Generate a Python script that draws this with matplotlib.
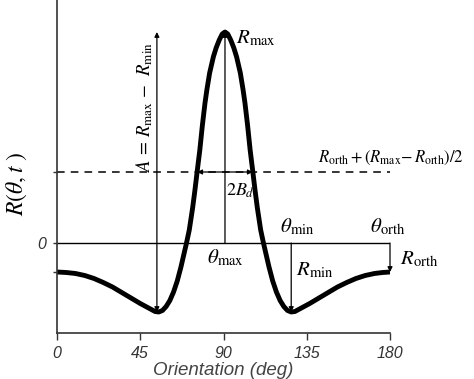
import numpy as np
import matplotlib.pyplot as plt

plt.rcParams['mathtext.fontset'] = 'stix'
plt.rcParams['font.family'] = ['Liberation Sans', 'DejaVu Sans']

# tuning curve
theta = [0, 5, 10, 15, 20, 25, 30, 35, 40, 45, 50, 53, 55, 57, 59, 61, 63, 65,
         67, 68.5, 70, 71.5, 73.3, 74.5, 75.8, 77.2, 78.6, 80, 81, 82.5, 84.5,
         86, 87.7, 89.3, 90.8, 92.3, 93.9, 95.6, 97.1, 99.1, 100.6, 101.6, 103,
         104.4, 105.8, 107.1, 108.3, 110.1, 111.6, 113.1, 114.6, 116.6, 118.6,
         120.6, 122.6, 124.6, 126.6, 128.6, 131.6, 136.6, 141.6, 146.6, 151.6,
         156.6, 161.6, 166.6, 171.6, 176, 180]
resp = [-0.29, -0.295, -0.305, -0.325, -0.355, -0.395, -0.44, -0.495, -0.55,
        -0.605, -0.655, -0.685, -0.69, -0.675, -0.635, -0.575, -0.49, -0.38,
        -0.24, -0.12, 0.00, 0.13, 0.35, 0.52, 0.72, 0.93, 1.18, 1.40, 1.53,
        1.70, 1.86, 1.95, 2.03, 2.09, 2.11, 2.09, 2.03, 1.95, 1.86, 1.70, 1.53,
        1.40, 1.18, 0.93, 0.72, 0.52, 0.35, 0.13, 0.00, -0.12, -0.24, -0.38,
        -0.49, -0.575, -0.635, -0.675, -0.69, -0.685, -0.655, -0.605, -0.55,
        -0.495, -0.44, -0.395, -0.355, -0.325, -0.305, -0.295, -0.29]

half_level = 0.71
half_left, half_right = 75.8, 105.8
theta_left_min = 54.0
xticks = [0, 45, 90, 135, 180]

theta = np.array(theta)
resp = np.array(resp)
i_max = np.argmax(resp)
i_min = np.argmin(resp[theta > 100]) + np.sum(theta <= 100)
th_max, r_max = theta[i_max], resp[i_max]
th_min, r_min = theta[i_min], resp[i_min]
th_orth, r_orth = theta[-1], resp[-1]

fig = plt.figure(figsize=(4.74, 3.79), dpi=100)
ax = fig.add_axes([57 / 474, 46 / 379, 333 / 474, 333 / 379])
ax.set_xlim(0, 180)
ax.set_ylim(-0.90, 2.43)
for s in ['top', 'right']:
    ax.spines[s].set_visible(False)
for s in ['left', 'bottom']:
    ax.spines[s].set_color('#333333')
    ax.spines[s].set_linewidth(1.2)

ax.set_xticks(xticks)
ax.set_xticklabels([str(t) for t in xticks], fontstyle='italic',
                   fontsize=11.5, color='#333333')
ax.set_yticks([r_orth, 0, half_level])
ax.set_yticklabels(['', '0', ''], fontstyle='italic', fontsize=11.5,
                   color='#333333')
ax.tick_params(axis='x', length=5, width=1, color='#333333', pad=4)
ax.tick_params(axis='y', length=3, width=1, color='#333333', pad=5)

ax.set_xlabel('Orientation (deg)', fontstyle='italic', fontsize=13.5,
              color='#444444', labelpad=1)
fig.text(17 / 474, 1 - 184 / 379, r'$R(\theta,t\ )$', rotation=90,
         fontsize=17, ha='center', va='center')

# curve
ax.plot(theta, resp, color='black', lw=3.5, solid_capstyle='butt')

# reference lines
ax.plot([0, 180], [0, 0], color='black', lw=1)
ax.plot([0, 180], [half_level, half_level], color='black', lw=1.1,
        dashes=(5, 4))


def arrow(x0, y0, x1, y1, style='-|>'):
    ax.annotate('', xy=(x1, y1), xytext=(x0, y0),
                arrowprops=dict(arrowstyle=style, lw=0.9, color='black',
                                mutation_scale=7, shrinkA=0, shrinkB=0))


arrow(theta_left_min, r_min, theta_left_min, r_max, '<|-|>')
arrow(th_max, 0, th_max, r_max)
arrow(th_max, half_level, half_left, half_level)
arrow(th_max, half_level, half_right, half_level)
arrow(th_min, 0, th_min, r_min)
arrow(th_orth, 0, th_orth, r_orth)

fs = 15
ax.text(theta_left_min - 6.5, 1.36,
        r'$A\,=\,R_{\mathrm{max}}\ \mathrm{-}\ \ R_{\mathrm{min}}$',
        rotation=90, ha='center', va='center', fontsize=13.5)
ax.text(th_max + 6, r_max - 0.06, r'$R_{\mathrm{max}}$', fontsize=fs,
        ha='left', va='center')
ax.text(th_max + 0.8, half_level - 0.19, r'$2B_d$', fontsize=13,
        ha='left', va='center')
ax.text(th_max, -0.15, r'$\theta_{\mathrm{max}}$', fontsize=fs,
        ha='center', va='center')
ax.text(th_min + 3.5, 0.16, r'$\theta_{\mathrm{min}}$', fontsize=fs,
        ha='center', va='center')
ax.text(th_orth - 1.5, 0.16, r'$\theta_{\mathrm{orth}}$', fontsize=fs,
        ha='center', va='center')
ax.text(th_min + 2.5, -0.27, r'$R_{\mathrm{min}}$', fontsize=fs,
        ha='left', va='center')
ax.text(th_orth + 5.5, -0.16, r'$R_{\mathrm{orth}}$', fontsize=fs,
        ha='left', va='center', clip_on=False)
ax.text(141, half_level + 0.14,
        r'$R_{\mathrm{orth}}+(R_{\mathrm{max}}\mathrm{-}\,R_{\mathrm{orth}})/2$',
        fontsize=12, ha='left', va='center', clip_on=False)

fig.savefig('out.png', dpi=100)
